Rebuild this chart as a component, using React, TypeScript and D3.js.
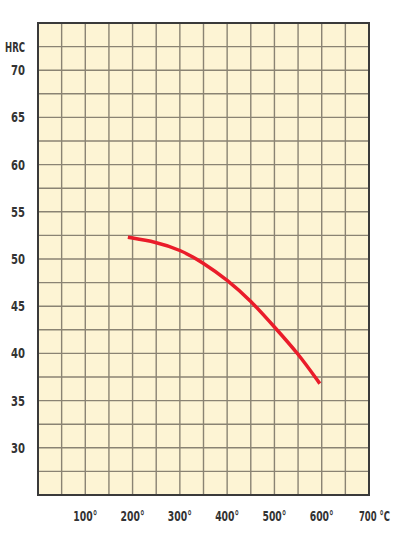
import React, { useEffect, useRef } from 'react';
import * as d3 from 'd3';

// temperature (°C) vs hardness (HRC)
const temps = [190, 250, 300, 350, 400, 450, 500, 550, 596];
const hrc = [52.3, 51.8, 51.0, 49.6, 47.8, 45.6, 42.8, 40.0, 36.8];

const xTicks = [100, 200, 300, 400, 500, 600, 700];
const xTickLabels = ['100°', '200°', '300°', '400°', '500°', '600°', '700 °C'];
const yTicks = [30, 35, 40, 45, 50, 55, 60, 65, 70];

export default function App() {
  const svgRef = useRef<SVGSVGElement>(null);

  useEffect(() => {
    const width = 400;
    const height = 534;
    const m = { top: 23, right: 31, bottom: 39, left: 38 };

    const svg = d3.select(svgRef.current).attr('width', width).attr('height', height);
    svg.selectAll('*').remove();

    const x = d3.scaleLinear().domain([0, 700]).range([m.left, width - m.right]);
    const y = d3.scaleLinear().domain([25, 75]).range([height - m.bottom, m.top]);

    const font = '"DejaVu Sans", sans-serif';

    // background
    svg.append('rect')
      .attr('x', x(0)).attr('y', y(75))
      .attr('width', x(700) - x(0)).attr('height', y(25) - y(75))
      .attr('fill', '#fdf4d4');

    // grid
    const g = svg.append('g').attr('stroke', '#8a8373').attr('stroke-width', 1.4);
    g.selectAll('.vx')
      .data(d3.range(50, 700, 50))
      .enter().append('line')
      .attr('x1', d => x(d)).attr('x2', d => x(d))
      .attr('y1', y(75)).attr('y2', y(25));
    g.selectAll('.hy')
      .data(d3.range(27.5, 75, 2.5))
      .enter().append('line')
      .attr('y1', d => y(d)).attr('y2', d => y(d))
      .attr('x1', x(0)).attr('x2', x(700));

    // frame
    svg.append('rect')
      .attr('x', x(0)).attr('y', y(75))
      .attr('width', x(700) - x(0)).attr('height', y(25) - y(75))
      .attr('fill', 'none').attr('stroke', '#3a3a3a').attr('stroke-width', 2);

    // curve
    const line = d3.line<number>()
      .x((d, i) => x(temps[i]))
      .y(d => y(d))
      .curve(d3.curveBasis);
    svg.append('path')
      .datum(hrc)
      .attr('d', line)
      .attr('fill', 'none')
      .attr('stroke', '#ea1c2a')
      .attr('stroke-width', 3.5)
      .attr('stroke-linecap', 'butt');

    // condensed label: measure, then squeeze horizontally to the wanted width
    const addLabel = (txt: string, left: number, cy: number, w: number) => {
      const t = svg.append('text')
        .attr('dy', '0.35em')
        .attr('font-family', font)
        .attr('font-size', 14)
        .attr('font-weight', 'bold')
        .style('font-stretch', 'condensed')
        .attr('fill', '#333')
        .text(txt);
      const len = (t.node() as SVGTextElement).getComputedTextLength() || w;
      t.attr('transform', `translate(${left},${cy}) scale(${w / len},1)`);
    };

    yTicks.forEach(d => addLabel(String(d), 11, y(d), 14));
    addLabel('HRC', 5, y(72.5), 20);

    xTicks.forEach((d, i) => {
      const last = i === xTicks.length - 1;
      addLabel(xTickLabels[i], last ? x(d) - 10 : x(d) - 12, 516, last ? 31 : 24);
    });
  }, []);

  return <svg ref={svgRef} style={{ position: 'absolute', left: 0, top: 0 }} />;
}
